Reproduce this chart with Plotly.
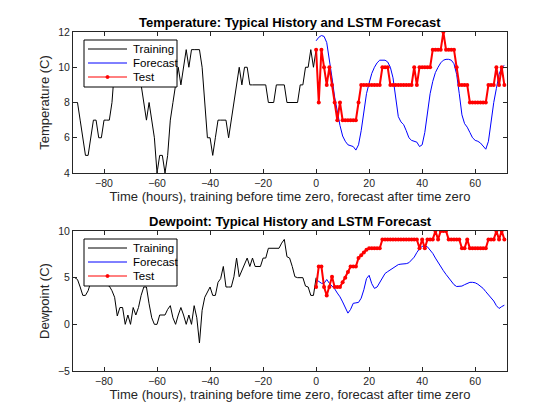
import numpy as np
import plotly.graph_objects as go

# hours: training is before time zero, test / forecast after
train_hours = np.arange(-91, 1)
test_hours = np.arange(0, 72)

temp_train = [8, 8, 7, 6, 5, 5, 6, 7, 7, 6, 6, 7, 7, 7, 8, 10,
              11, 11, 11, 10, 11, 11, 11, 10, 10,
              9, 8, 7, 8, 7, 6, 4, 5, 5, 4, 5, 7, 8, 9, 10, 9, 10, 11, 10, 11, 11, 11, 11,
              10, 8, 6, 6, 5, 6, 7, 7, 7, 7, 6, 7, 8, 9, 10, 9, 10, 10, 9,
              9, 9, 9, 9, 9, 9, 8, 8, 8, 9, 9, 9, 9, 8, 8, 8, 8, 8, 9, 9, 10, 10, 11, 10, 11]
temp_test = [11, 8, 11, 10, 9, 10, 9, 8, 7, 8, 7, 7, 7, 7, 7, 7, 8, 9, 9, 9, 9, 9, 9, 9, 9,
             10, 10, 10, 9, 9, 9, 9, 9, 9, 9, 9, 9, 10, 9, 10, 10, 10, 10, 10,
             11, 11, 11, 11, 12, 11, 11, 11, 11, 10, 9, 9, 9, 9,
             8, 8, 8, 8, 8, 8, 8, 9, 9, 9, 10, 9, 10, 9]
temp_forecast = [11.5, 11.7, 11.8, 11.75, 11.4, 10.5, 9.4, 8.3, 7.4, 6.7, 6.1, 5.8, 5.6, 5.55,
                 5.5, 5.3, 5.6, 6.4, 7.4, 8.5, 9.1, 9.65, 10.0, 10.25, 10.4, 10.4, 10.4, 10.3,
                 10.0, 9.4, 8.4, 7.2, 6.9, 6.75, 6.4, 6.0, 5.85, 5.8, 5.75, 5.5, 5.6, 6.3,
                 7.4, 8.5, 9.2, 9.7, 10.0, 10.25, 10.4, 10.45, 10.45, 10.4, 10.2, 9.6, 8.5,
                 7.3, 6.8, 6.6, 6.3, 6.0, 5.85, 5.8, 5.7, 5.5, 5.35, 5.8, 7.0, 8.0, 8.8,
                 9.6, 10.0, 10.1]

dew_train = [5.0, 4.8, 4.0, 3.1, 3.1, 3.6, 4.5, 5.0, 5.5, 5.3, 5.0, 4.6, 4.2, 4.1, 3.6,
             2.9, 0.9, 1.8, 1.8, 0.0, 1.0, 0.0, 1.8, 1.0, 1.8, 3.1, 4.0, 4.0, 2.2, 0.7,
             0.0, 0.0, 1.0, 1.0, 1.0, 1.6, 2.0, 0.7, 0.0, 1.0, 1.8, 1.0, 0.0, 1.0, 0.0,
             2.0, 0.7, -2.0, 1.5, 2.9, 3.5, 4.0, 3.1, 3.1, 4.5, 4.9, 6.2, 4.0, 4.0, 4.0,
             5.1, 7.1, 5.1, 5.8, 6.3, 7.1, 6.2, 7.1, 6.2, 6.2, 6.2, 7.1, 7.1, 8.15, 8.15,
             8.15, 8.15, 8.15, 8.7, 9.1, 7.25, 7.1, 6.2, 5.1, 5.0, 5.0, 5.0, 4.1, 4.0,
             3.1, 3.1, 5.0]
dew_test = [4.0, 6.2, 6.2, 4.0, 3.1, 4.0, 5.1, 4.0, 4.0, 4.0, 4.5, 5.0, 5.6, 6.2, 6.2,
            6.2, 7.1, 7.4, 7.7, 8.0, 8.15, 8.15, 8.15, 8.15, 8.15,
            9.1, 9.1, 9.1, 9.1, 9.1, 9.1, 9.1, 9.1, 9.1, 9.1, 9.1, 9.1, 9.1, 9.1,
            8.15, 9.1, 8.15, 9.1, 9.1, 9.1, 10, 9.1, 10, 10, 10, 9.1, 9.1, 9.1, 9.1, 9.1,
            8.15, 8.15, 9.1, 8.15, 8.15, 8.15, 8.15, 8.15, 8.15, 8.15,
            9.1, 9.1, 9.1, 10, 9.1, 10, 9.1]
dew_forecast = [4.8, 4.6, 4.4, 4.4, 4.8, 4.4, 4.1, 3.8, 3.35, 2.95, 2.4, 1.8, 1.2, 1.6,
                2.25, 2.3, 2.35, 2.8, 3.7, 4.9, 5.25, 4.35, 3.85, 4.0, 4.5, 5.0, 5.45,
                5.65, 5.85, 6.05, 6.25, 6.4, 6.45, 6.45, 6.5, 6.6, 6.85, 7.2, 7.7, 8.1,
                8.35, 8.4, 8.3, 8.0, 7.6, 7.1, 6.6, 6.15, 5.75, 5.35, 4.95, 4.55, 4.25,
                4.05, 4.05, 4.1, 4.25, 4.4, 4.5, 4.5, 4.45, 4.3, 4.1, 3.85, 3.5, 3.2,
                2.9, 2.5, 2.0, 1.7, 1.9, 2.05]

x_ticks = [-80, -60, -40, -20, 0, 20, 40, 60]
temp_ticks = [4, 6, 8, 10, 12]
dew_ticks = [-5, 0, 5, 10]
legend_names = ['Training', 'Forecast', 'Test']
legend_colors = ['black', '#0000ff', '#ff0000']

xlabel = 'Time (hours), training before time zero, forecast after time zero'
font = 'Liberation Sans, Arial, sans-serif'

# the page body adds an 8px margin, so the figure is 552x412 drawn from (8, 8)
OFF = 8
W, H = 560 - OFF, 420 - OFF
# plot area in window pixels
L, R, T, B = 73, 507, 32, 371


def px(x):
    return (x - L) / (R - L)


def py(y):
    return (B - y) / (B - T)


fig = go.Figure()

panels = [
    (temp_train, temp_forecast, temp_test, 'x', 'y'),
    (dew_train, dew_forecast, dew_test, 'x2', 'y2'),
]
for train, forecast, test, xa, ya in panels:
    fig.add_trace(go.Scatter(x=train_hours, y=train, mode='lines', name='Training',
                             line=dict(color='black', width=1), xaxis=xa, yaxis=ya))
    fig.add_trace(go.Scatter(x=test_hours, y=forecast, mode='lines', name='Forecast',
                             line=dict(color='#0000ff', width=1), xaxis=xa, yaxis=ya))
    fig.add_trace(go.Scatter(x=test_hours, y=test, mode='lines+markers', name='Test',
                             line=dict(color='#ff0000', width=2),
                             marker=dict(size=4, color='#ff0000'),
                             xaxis=xa, yaxis=ya))

axis_style = dict(showgrid=False, zeroline=False, showline=True, linecolor='#262626',
                  linewidth=1, mirror='ticks', ticks='inside', ticklen=4, automargin=False,
                  tickcolor='#262626', tickfont=dict(size=10.5, color='#262626'))

# hand-drawn legends (MATLAB style boxes)
shapes = []
annotations = []
for box_top in [40, 239]:
    shapes.append(dict(type='rect', xref='paper', yref='paper', x0=px(84), x1=px(177),
                       y0=py(box_top), y1=py(box_top + 47), line=dict(color='black', width=1),
                       fillcolor='white', layer='above'))
    for i, (name, col) in enumerate(zip(legend_names, legend_colors)):
        ry = box_top + 9 + 14 * i
        shapes.append(dict(type='line', xref='paper', yref='paper', x0=px(88), x1=px(127),
                           y0=py(ry), y1=py(ry), line=dict(color=col, width=1), layer='above'))
        if name == 'Test':
            shapes.append(dict(type='circle', xref='paper', yref='paper',
                               x0=px(106), x1=px(109), y0=py(ry - 1.5), y1=py(ry + 1.5),
                               line=dict(color=col, width=1), fillcolor=col, layer='above'))
        annotations.append(dict(text=name, x=px(131), y=py(ry), xref='paper', yref='paper',
                                xanchor='left', yanchor='middle', showarrow=False,
                                font=dict(size=11.5, color='black')))

annotations += [
    dict(text='<b>Temperature: Typical History and LSTM Forecast</b>', x=0.5, y=py(32),
         xref='paper', yref='paper', xanchor='center', yanchor='bottom', showarrow=False,
         font=dict(size=13, color='black'), yshift=0),
    dict(text='<b>Dewpoint: Typical History and LSTM Forecast</b>', x=0.5, y=py(231),
         xref='paper', yref='paper', xanchor='center', yanchor='bottom', showarrow=False,
         font=dict(size=13, color='black'), yshift=0),
]

fig.update_layout(
    width=W, height=H,
    paper_bgcolor='white', plot_bgcolor='white',
    margin=dict(l=L - OFF, r=560 - R, t=T - OFF, b=420 - B),
    font=dict(family=font, color='#262626'),
    showlegend=False,
    xaxis=dict(domain=[0, 1], range=[-91.7, 72], tickvals=x_ticks, anchor='y',
               title=dict(text=xlabel, font=dict(size=13), standoff=4), **axis_style),
    yaxis=dict(domain=[py(173), 1], range=[4, 12], tickvals=temp_ticks, anchor='x',
               title=dict(text='Temperature (C)', font=dict(size=13), standoff=5), **axis_style),
    xaxis2=dict(domain=[0, 1], range=[-91.7, 72], tickvals=x_ticks, anchor='y2',
                title=dict(text=xlabel, font=dict(size=13), standoff=4), **axis_style),
    yaxis2=dict(domain=[0, py(231)], range=[-5, 10], tickvals=dew_ticks, anchor='x2',
                title=dict(text='Dewpoint (C)', font=dict(size=13), standoff=5), **axis_style),
    shapes=shapes,
    annotations=annotations,
)

fig.write_html("out.html")
